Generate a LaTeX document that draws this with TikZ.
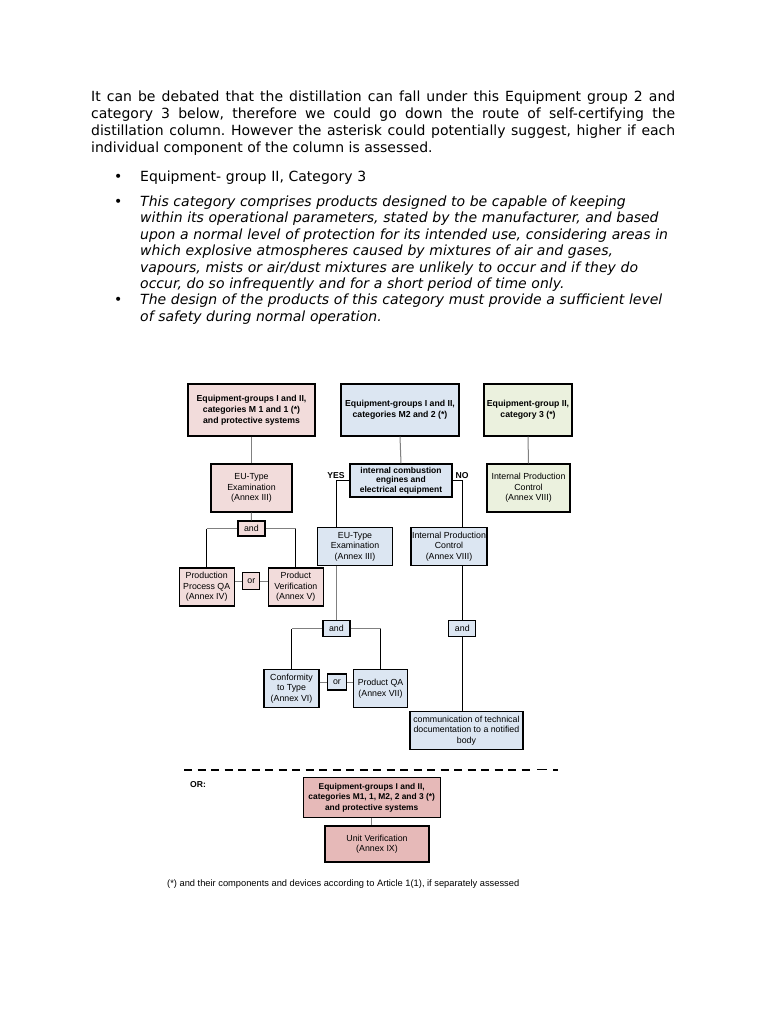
\documentclass[tikz,border=0pt]{standalone}
\usepackage{fontspec}
\setmainfont{DejaVu Sans}
\newfontfamily\arial{Liberation Sans}
\frenchspacing
\definecolor{pinkfill}{HTML}{F2DCDB}
\definecolor{bluefill}{HTML}{DCE6F2}
\definecolor{greenfill}{HTML}{EBF1DE}
\definecolor{rosefill}{HTML}{E6B9B8}
\definecolor{linkgray}{HTML}{808080}
\begin{document}
\begin{tikzpicture}[x=1pt,y=-1pt,
   box/.style={draw, line width=1.3pt, inner sep=1pt, align=center,
      font=\arial\fontsize{8.8}{10.5}\selectfont},
   head/.style={box, font=\arial\bfseries\fontsize{8.7}{11}\selectfont},
   flag/.style={inner sep=0pt, font=\arial\bfseries\fontsize{8.6}{9}\selectfont},
   link/.style={draw=linkgray, line width=1pt},
   wire/.style={draw=black, line width=1pt},
   body/.style={anchor=base west, inner sep=0pt, text width=600pt, align=left,
      font=\fontsize{14}{16.4}\selectfont}]

   \fill[white] (0,0) rectangle (768,1024);
   \useasboundingbox (0,0) rectangle (768,1024);

   \node[anchor=base west, inner sep=0pt, text width=584pt, align=justify,
      font=\fontsize{14}{17}\selectfont] (intro) at (91,102)
      {It can be debated that the distillation can fall under this Equipment group 2 and\linebreak
       category 3 below, therefore we could go down the route of self-certifying the\linebreak
       distillation column. However the asterisk could potentially suggest, higher if each\linebreak
       individual component of the column is assessed.};

   \node[body, text width=10pt] (dot1) at (114,182) {•};
   \node[body] (item1) at (140,182) {Equipment- group II, Category 3};
   \node[body, text width=10pt] (dot2) at (114,206.5) {•};
   \node[body, font=\itshape\fontsize{14}{16.4}\selectfont] (item2) at (140,206.5)
      {This category comprises products designed to be capable of keeping\\
       within its operational parameters, stated by the manufacturer, and based\\
       upon a normal level of protection for its intended use, considering areas in\\
       which explosive atmospheres caused by mixtures of air and gases,\\
       vapours, mists or air/dust mixtures are unlikely to occur and if they do\\
       occur, do so infrequently and for a short period of time only.};
   \node[body, text width=10pt] (dot3) at (114,304.9) {•};
   \node[body, font=\itshape\fontsize{14}{16.4}\selectfont] (item3) at (140,304.9)
      {The design of the products of this category must provide a sufficient level\\
       of safety during normal operation.};

   % top row
   \node[head, fill=pinkfill, minimum width=127pt, minimum height=52pt] (A) at (251.5,410)
      {Equipment-groups I and II,\\ categories M 1 and 1 (*)\\ and protective systems};
   \node[head, fill=bluefill, minimum width=118pt, minimum height=52pt] (B) at (400,410)
      {Equipment-groups I and II,\\ categories M2 and 2 (*)};
   \node[head, fill=greenfill, minimum width=88pt, minimum height=52pt] (C) at (528,410)
      {Equipment-group II,\\ category 3 (*)};

   \node[box, fill=pinkfill, minimum width=81pt, minimum height=48pt] (A2) at (251.5,488)
      {EU-Type\\ Examination\\ (Annex III)};
   \node[head, fill=bluefill, minimum width=102pt, minimum height=33pt,
      font=\arial\bfseries\fontsize{8.5}{9.3}\selectfont] (B2) at (401,480.5)
      {internal combustion\\ engines and\\ electrical equipment};
   \node[box, fill=greenfill, minimum width=83pt, minimum height=48pt] (C2) at (528.5,488)
      {Internal Production\\ Control\\ (Annex VIII)};
   \node[flag] (yes) at (336,476) {YES};
   \node[flag] (no) at (462,476) {NO};

   \node[box, fill=pinkfill, minimum width=27pt, minimum height=15pt] (Aand) at (251.4,528.5) {and};
   \node[box, fill=pinkfill, minimum width=55pt, minimum height=38pt] (PPQA) at (206.7,587)
      {Production\\ Process QA\\ (Annex IV)};
   \node[box, fill=pinkfill, minimum width=17pt, minimum height=17pt] (Aor) at (251.3,581) {or};
   \node[box, fill=pinkfill, minimum width=55pt, minimum height=38pt] (PV) at (295.8,587)
      {Product\\ Verification\\ (Annex V)};

   \node[box, fill=bluefill, minimum width=75pt, minimum height=38pt] (B3) at (355,546.7)
      {EU-Type\\ Examination\\ (Annex III)};
   \node[box, fill=bluefill, minimum width=74pt, minimum height=38pt] (B4) at (449,546.7)
      {Internal Production\\ Control\\ (Annex VIII)};

   \node[box, fill=bluefill, minimum width=27pt, minimum height=16pt] (Band) at (336.4,628.8) {and};
   \node[box, fill=bluefill, minimum width=27pt, minimum height=16pt] (Cand) at (462.3,628.7) {and};
   \node[box, fill=bluefill, minimum width=55pt, minimum height=38pt] (CT) at (291.5,688.5)
      {Conformity\\ to Type\\ (Annex VI)};
   \node[box, fill=bluefill, minimum width=19pt, minimum height=16pt] (Bor) at (337,682) {or};
   \node[box, fill=bluefill, minimum width=54pt, minimum height=38pt] (PQA) at (380.5,688.5)
      {Product QA\\ (Annex VII)};
   \node[box, fill=bluefill, minimum width=113pt, minimum height=38pt] (comm) at (466.4,730.5)
      {communication of technical\\ documentation to a notified\\ body};

   % connectors
   \draw[link] (A.south) -- (A2.north);
   \draw[link] (A2.south) -- (Aand.north);
   \draw[link] (Aand.west) -- (Aand.west -| PPQA);
   \draw[link] (Aand.east) -- (Aand.east -| PV);
   \draw[wire] (Aand.west -| PPQA) -- (PPQA.north);
   \draw[wire] (Aand.east -| PV) -- (PV.north);
   \draw[link] (Aor.west) -- (Aor.west -| PPQA.east);
   \draw[link] (Aor.east) -- (Aor.east -| PV.west);

   \draw[link] (B.south) -- (B2.north);
   \draw[wire] (B2.west) -| (Band.north |- B3.north);
   \draw[wire] (B2.east) -| (Cand.north |- B4.north);
   \draw[link] (Band.north |- B3.south) -- (Band.north);
   \draw[wire] (Cand.north |- B4.south) -- (Cand.north);
   \draw[wire] (Cand.south) -- (Cand.south |- comm.north);
   \draw[link] (Band.west) -- (Band.west -| CT);
   \draw[link] (Band.east) -- (Band.east -| PQA);
   \draw[wire] (Band.west -| CT) -- (CT.north);
   \draw[wire] (Band.east -| PQA) -- (PQA.north);
   \draw[link] (Bor.west) -- (Bor.west -| CT.east);
   \draw[link] (Bor.east) -- (Bor.east -| PQA.west);

   \draw[link] (C.south) -- (C2.north);

   % alternative route
   \draw[line width=1.4pt, dash pattern=on 8pt off 5.5pt] (184,770) -- (532,770);
   \draw[line width=1.4pt] (537,769.5) -- (547,769.5);
   \draw[line width=1.4pt] (553,770) -- (558,770);
   \node[flag, anchor=west] (or) at (190,785) {OR:};
   \node[head, fill=rosefill, minimum width=137pt, minimum height=40pt,
      font=\arial\bfseries\fontsize{8.4}{10.5}\selectfont] (D) at (371.7,797.7)
      {Equipment-groups I and II,\\ categories M1, 1, M2, 2 and 3 (*)\\ and protective systems};
   \node[box, fill=rosefill, minimum width=104pt, minimum height=36pt] (UV) at (377,844)
      {Unit Verification\\ (Annex IX)};
   \draw[link] (D.south) -- (D.south |- UV.north);

   \node[anchor=west, inner sep=0pt, font=\arial\fontsize{9.3}{10}\selectfont] (note) at (167,884)
      {(*) and their components and devices according to Article 1(1), if separately assessed};

\end{tikzpicture}
\end{document}
